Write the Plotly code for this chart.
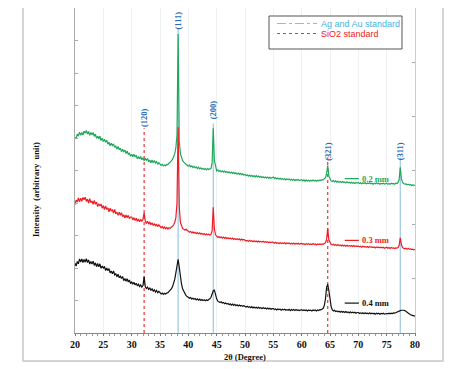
import plotly.graph_objects as go

# ---------------- data ----------------
# 2-theta sampling positions (degrees), 0.2 deg step from 20 to 80
TWO_THETA = [round(20 + 0.2 * i, 1) for i in range(301)]

# Intensity (arbitrary units, offset per sample)
INT_02MM = [
    # 20.0 - 24.8
    6.02, 5.98, 6.12, 6.06, 6.18, 6.08, 6.17, 6.09, 6.21, 6.15, 6.23, 6.12, 6.20, 6.08, 6.17, 6.10, 6.17, 6.05, 6.12, 5.99, 6.05, 5.98, 6.06, 5.92, 5.99,
    # 25.0 - 29.8
    5.89, 5.96, 5.87, 5.93, 5.81, 5.87, 5.76, 5.84, 5.77, 5.82, 5.71, 5.75, 5.66, 5.74, 5.64, 5.69, 5.58, 5.65, 5.58, 5.63, 5.52, 5.60, 5.50, 5.53, 5.44,
    # 30.0 - 34.8
    5.50, 5.42, 5.50, 5.42, 5.47, 5.36, 5.42, 5.36, 5.43, 5.33, 5.39, 5.30, 5.38, 5.31, 5.37, 5.27, 5.32, 5.24, 5.32, 5.24, 5.31, 5.23, 5.27, 5.19, 5.24,
    # 35.0 - 39.8
    5.21, 5.16, 5.19, 5.14, 5.17, 5.15, 5.19, 5.18, 5.23, 5.25, 5.30, 5.34, 5.42, 5.52, 5.70, 6.10, 9.20, 5.90, 5.52, 5.38, 5.30, 5.26, 5.21, 5.19, 5.16,
    # 40.0 - 44.8
    5.13, 5.17, 5.11, 5.14, 5.09, 5.13, 5.08, 5.11, 5.06, 5.10, 5.05, 5.08, 5.04, 5.07, 5.03, 5.06, 5.02, 5.06, 5.03, 5.05, 5.06, 5.25, 6.30, 5.30, 5.08,
    # 45.0 - 49.8
    4.99, 5.02, 4.97, 5.00, 4.96, 4.99, 4.95, 4.98, 4.94, 4.97, 4.93, 4.96, 4.92, 4.95, 4.91, 4.94, 4.90, 4.93, 4.89, 4.92, 4.88, 4.91, 4.87, 4.90, 4.86,
    # 50.0 - 54.8
    4.88, 4.84, 4.87, 4.83, 4.86, 4.82, 4.85, 4.81, 4.84, 4.80, 4.84, 4.80, 4.83, 4.79, 4.82, 4.78, 4.81, 4.78, 4.80, 4.77, 4.80, 4.76, 4.79, 4.76, 4.78,
    # 55.0 - 59.8
    4.80, 4.75, 4.78, 4.74, 4.77, 4.73, 4.76, 4.73, 4.75, 4.72, 4.75, 4.71, 4.74, 4.72, 4.74, 4.70, 4.73, 4.70, 4.73, 4.69, 4.72, 4.70, 4.72, 4.69, 4.71,
    # 60.0 - 64.8
    4.72, 4.68, 4.71, 4.67, 4.71, 4.68, 4.70, 4.67, 4.70, 4.68, 4.71, 4.68, 4.70, 4.67, 4.70, 4.68, 4.71, 4.69, 4.72, 4.71, 4.74, 4.78, 4.90, 5.15, 4.82,
    # 65.0 - 69.8
    4.72, 4.68, 4.66, 4.69, 4.65, 4.68, 4.64, 4.67, 4.64, 4.66, 4.63, 4.66, 4.63, 4.65, 4.62, 4.65, 4.62, 4.64, 4.61, 4.64, 4.61, 4.63, 4.60, 4.63, 4.61,
    # 70.0 - 74.8
    4.63, 4.60, 4.62, 4.59, 4.62, 4.60, 4.63, 4.59, 4.61, 4.60, 4.62, 4.59, 4.61, 4.58, 4.61, 4.59, 4.62, 4.59, 4.61, 4.58, 4.60, 4.59, 4.61, 4.58, 4.60,
    # 75.0 - 80.0
    4.61, 4.58, 4.60, 4.58, 4.61, 4.59, 4.60, 4.58, 4.61, 4.60, 4.63, 4.72, 5.10, 4.75, 4.63, 4.60, 4.58, 4.59, 4.56, 4.58, 4.55, 4.57, 4.54, 4.56, 4.54, 4.54,
]

INT_03MM = [
    3.95, 4.09, 4.03, 4.16, 4.04, 4.15, 4.05, 4.17, 4.10, 4.18, 4.05, 4.12, 4.00, 4.13, 4.01, 4.06, 3.96, 4.08, 3.96, 4.03, 3.89, 3.98, 3.91, 3.97, 3.84,
    3.92, 3.80, 3.91, 3.80, 3.85, 3.73, 3.84, 3.75, 3.80, 3.69, 3.80, 3.67, 3.72, 3.62, 3.72, 3.62, 3.70, 3.58, 3.64, 3.54, 3.63, 3.55, 3.62, 3.52, 3.57,
    3.57, 3.48, 3.55, 3.46, 3.53, 3.44, 3.51, 3.42, 3.49, 3.44, 3.50, 3.70, 3.45, 3.37, 3.44, 3.35, 3.42, 3.33, 3.39, 3.31, 3.37, 3.29, 3.35, 3.27, 3.33,
    3.30, 3.24, 3.28, 3.22, 3.26, 3.21, 3.25, 3.20, 3.24, 3.22, 3.26, 3.28, 3.33, 3.40, 3.55, 4.00, 6.33, 3.90, 3.40, 3.27, 3.22, 3.19, 3.17, 3.19, 3.15,
    3.14, 3.10, 3.13, 3.08, 3.11, 3.07, 3.10, 3.06, 3.09, 3.05, 3.08, 3.04, 3.07, 3.03, 3.06, 3.02, 3.05, 3.02, 3.04, 3.01, 3.04, 3.15, 3.87, 3.20, 3.02,
    2.98, 2.94, 2.97, 2.93, 2.96, 2.92, 2.95, 2.91, 2.94, 2.90, 2.93, 2.90, 2.92, 2.89, 2.92, 2.88, 2.91, 2.88, 2.90, 2.87, 2.90, 2.86, 2.89, 2.86, 2.88,
    2.86, 2.83, 2.85, 2.82, 2.85, 2.82, 2.84, 2.81, 2.84, 2.81, 2.83, 2.80, 2.83, 2.80, 2.82, 2.80, 2.82, 2.79, 2.81, 2.79, 2.81, 2.78, 2.80, 2.78, 2.80,
    2.79, 2.76, 2.79, 2.76, 2.78, 2.75, 2.78, 2.75, 2.77, 2.75, 2.78, 2.74, 2.77, 2.75, 2.77, 2.74, 2.76, 2.74, 2.77, 2.73, 2.76, 2.74, 2.76, 2.73, 2.75,
    2.76, 2.73, 2.75, 2.72, 2.75, 2.73, 2.75, 2.72, 2.74, 2.72, 2.75, 2.72, 2.74, 2.71, 2.74, 2.72, 2.74, 2.72, 2.74, 2.73, 2.75, 2.78, 2.88, 3.22, 2.86,
    2.76, 2.72, 2.71, 2.73, 2.70, 2.72, 2.69, 2.72, 2.69, 2.71, 2.68, 2.71, 2.68, 2.70, 2.67, 2.70, 2.67, 2.69, 2.67, 2.69, 2.66, 2.69, 2.66, 2.68, 2.66,
    2.68, 2.65, 2.67, 2.64, 2.67, 2.65, 2.66, 2.64, 2.66, 2.63, 2.66, 2.64, 2.65, 2.63, 2.65, 2.62, 2.65, 2.63, 2.64, 2.62, 2.64, 2.62, 2.64, 2.61, 2.63,
    2.64, 2.61, 2.63, 2.60, 2.63, 2.61, 2.62, 2.60, 2.62, 2.61, 2.63, 2.70, 2.93, 2.72, 2.63, 2.61, 2.59, 2.61, 2.58, 2.60, 2.58, 2.59, 2.57, 2.58, 2.56, 2.57,
]

INT_04MM = [
    2.15, 2.06, 2.20, 2.13, 2.28, 2.18, 2.28, 2.17, 2.26, 2.18, 2.29, 2.17, 2.25, 2.12, 2.20, 2.12, 2.21, 2.08, 2.16, 2.04, 2.14, 2.04, 2.13, 1.99, 2.06,
    1.99, 2.05, 1.92, 2.00, 1.92, 1.98, 1.85, 1.91, 1.82, 1.91, 1.79, 1.82, 1.73, 1.81, 1.70, 1.75, 1.68, 1.74, 1.61, 1.68, 1.59, 1.67, 1.57, 1.63, 1.52,
    1.58, 1.50, 1.56, 1.48, 1.53, 1.45, 1.50, 1.43, 1.48, 1.41, 1.46, 1.74, 1.42, 1.37, 1.41, 1.34, 1.39, 1.31, 1.36, 1.29, 1.33, 1.26, 1.31, 1.24, 1.28,
    1.24, 1.20, 1.23, 1.19, 1.22, 1.20, 1.23, 1.24, 1.28, 1.31, 1.36, 1.42, 1.52, 1.65, 1.85, 2.05, 2.27, 2.02, 1.70, 1.50, 1.35, 1.27, 1.20, 1.15, 1.12,
    1.10, 1.07, 1.09, 1.05, 1.07, 1.04, 1.06, 1.02, 1.05, 1.01, 1.04, 1.00, 1.03, 1.00, 1.02, 0.99, 1.02, 1.00, 1.03, 1.05, 1.10, 1.20, 1.30, 1.32, 1.15,
    1.05, 0.98, 0.96, 0.94, 0.96, 0.92, 0.94, 0.90, 0.92, 0.89, 0.91, 0.87, 0.90, 0.86, 0.89, 0.85, 0.88, 0.84, 0.87, 0.83, 0.86, 0.83, 0.85, 0.82, 0.84,
    0.83, 0.80, 0.82, 0.79, 0.81, 0.78, 0.81, 0.77, 0.80, 0.77, 0.79, 0.76, 0.79, 0.76, 0.78, 0.75, 0.78, 0.75, 0.77, 0.74, 0.77, 0.74, 0.76, 0.73, 0.75,
    0.75, 0.72, 0.74, 0.71, 0.74, 0.72, 0.73, 0.70, 0.73, 0.71, 0.73, 0.70, 0.72, 0.70, 0.73, 0.69, 0.72, 0.70, 0.72, 0.69, 0.72, 0.70, 0.71, 0.69, 0.71,
    0.72, 0.69, 0.71, 0.69, 0.71, 0.68, 0.71, 0.69, 0.70, 0.68, 0.71, 0.69, 0.71, 0.68, 0.71, 0.69, 0.72, 0.71, 0.73, 0.76, 0.85, 1.05, 1.40, 1.50, 1.30,
    1.02, 0.82, 0.72, 0.68, 0.70, 0.66, 0.68, 0.65, 0.67, 0.64, 0.67, 0.64, 0.66, 0.63, 0.66, 0.63, 0.65, 0.62, 0.65, 0.62, 0.64, 0.62, 0.64, 0.61, 0.63,
    0.63, 0.60, 0.62, 0.60, 0.62, 0.59, 0.62, 0.60, 0.61, 0.59, 0.62, 0.59, 0.61, 0.59, 0.61, 0.58, 0.61, 0.59, 0.61, 0.58, 0.60, 0.59, 0.61, 0.58, 0.60,
    0.60, 0.59, 0.61, 0.59, 0.61, 0.60, 0.62, 0.61, 0.63, 0.64, 0.66, 0.67, 0.69, 0.70, 0.71, 0.70, 0.69, 0.66, 0.63, 0.60, 0.58, 0.56, 0.55, 0.54, 0.53, 0.52,
]

SAMPLE_LABELS = ["0.2 mm", "0.3 mm", "0.4 mm"]

# Standard reflection positions (2-theta) and their (hkl) labels
AGAU_PEAKS = [38.2, 44.4, 77.4]
AGAU_HKL = ["(111)", "(200)", "(311)"]
SIO2_PEAKS = [32.2, 64.6]
SIO2_HKL = ["(120)", "(321)"]

LEGEND_LABELS = ["Ag and Au standard", "SiO2 standard"]
X_TICKS = [20, 25, 30, 35, 40, 45, 50, 55, 60, 65, 70, 75, 80]

# ---------------- styling ----------------
GREEN = "#1fa85a"
RED = "#ee1c24"
BLACK = "#111111"
BLUE_LINE = "#9cc8e4"
RED_LINE = "#e8343c"
HKL_BLUE = "#2c6fb6"
SERIF = "Liberation Serif, Times New Roman, serif"
SANS = "Liberation Sans, Arial, sans-serif"

AGAU_TOPS = [9.4, 6.45, 5.4]
SIO2_TOPS = [6.3, 5.4]
AGAU_LABEL_Y = [9.62, 6.86, 5.6]
SIO2_LABEL_Y = [6.62, 5.6]

# The page body has an 8px default margin; the figure is sized/placed so that
# the plot area lands at x 75..415, y 8..333 in the browser window.
OFF = 8
FIG_W, FIG_H = 474 - OFF, 369 - OFF
PL, PR, PT, PB = 75, 415, 8, 333  # plot area in window pixels

fig = go.Figure()

# vertical standard lines
for p, top in zip(SIO2_PEAKS, SIO2_TOPS):
    fig.add_trace(go.Scatter(x=[p, p], y=[0, top], mode="lines",
                             line=dict(color=RED_LINE, width=1.2, dash="dot"),
                             showlegend=False, hoverinfo="skip"))
for p, top in zip(AGAU_PEAKS, AGAU_TOPS):
    fig.add_trace(go.Scatter(x=[p, p], y=[0, top], mode="lines",
                             line=dict(color=BLUE_LINE, width=1.2),
                             showlegend=False, hoverinfo="skip"))

# XRD patterns
for ys, col in zip([INT_02MM, INT_03MM, INT_04MM], [GREEN, RED, BLACK]):
    fig.add_trace(go.Scatter(x=TWO_THETA, y=ys, mode="lines",
                             line=dict(color=col, width=1.2),
                             showlegend=False, hoverinfo="skip"))

# invisible trace for the right-hand tick axis
fig.add_trace(go.Scatter(x=[20, 80], y=[0, 10], yaxis="y2", mode="lines",
                         line=dict(color="rgba(0,0,0,0)"), showlegend=False,
                         hoverinfo="skip"))


def px_x(px):
    return (px - PL) / float(PR - PL)


def px_y(py):
    return (PB - py) / float(PB - PT)


annotations = []
# hkl labels
for p, lab, yy in list(zip(AGAU_PEAKS, AGAU_HKL, AGAU_LABEL_Y)) + list(zip(SIO2_PEAKS, SIO2_HKL, SIO2_LABEL_Y)):
    annotations.append(dict(x=p, y=yy, xref="x", yref="y", text="<b>" + lab + "</b>",
                            textangle=-90, showarrow=False, xanchor="center", yanchor="middle",
                            font=dict(family=SERIF, size=8.5, color=HKL_BLUE)))

# sample labels with short line keys
shapes = []
SAMPLE_Y = [4.75, 2.85, 0.92]
for lab, col, yy in zip(SAMPLE_LABELS, [GREEN, RED, BLACK], SAMPLE_Y):
    shapes.append(dict(type="line", xref="x", yref="y", x0=67.6, x1=70.1, y0=yy, y1=yy,
                       line=dict(color=col, width=1.2)))
    annotations.append(dict(x=70.35, y=yy, xref="x", yref="y", text="<b>" + lab + "</b>",
                            showarrow=False, xanchor="left", yanchor="middle",
                            font=dict(family=SERIF, size=8.5, color=col)))

# custom legend box
shapes.append(dict(type="rect", xref="paper", yref="paper",
                   x0=px_x(269), x1=px_x(402), y0=px_y(49), y1=px_y(16),
                   line=dict(color="#555555", width=1), fillcolor="white"))
shapes.append(dict(type="line", xref="paper", yref="paper",
                   x0=px_x(277), x1=px_x(317), y0=px_y(23.5), y1=px_y(23.5),
                   line=dict(color="#7cc4e6", width=1, dash="dashdot")))
shapes.append(dict(type="line", xref="paper", yref="paper",
                   x0=px_x(277), x1=px_x(317), y0=px_y(33.5), y1=px_y(33.5),
                   line=dict(color=RED_LINE, width=1, dash="dot")))
annotations.append(dict(x=px_x(319), y=px_y(23.5), xref="paper", yref="paper",
                        text=LEGEND_LABELS[0], showarrow=False, xanchor="left", yanchor="middle",
                        font=dict(family=SANS, size=9, color="#45b4e6")))
annotations.append(dict(x=px_x(319), y=px_y(33.5), xref="paper", yref="paper",
                        text=LEGEND_LABELS[1], showarrow=False, xanchor="left", yanchor="middle",
                        font=dict(family=SANS, size=9, color=RED)))

# outer frame
shapes.append(dict(type="rect", xref="paper", yref="paper",
                   x0=px_x(23), x1=px_x(443), y0=px_y(361), y1=px_y(-10),
                   line=dict(color="#c8c8c8", width=1.5), fillcolor="rgba(0,0,0,0)", layer="below"))

# axis titles
annotations.append(dict(x=px_x(245), y=px_y(357), xref="paper", yref="paper",
                        text="<b>2θ (Degree)</b>", showarrow=False, xanchor="center", yanchor="middle",
                        font=dict(family=SERIF, size=8.5, color="#111111")))
annotations.append(dict(x=px_x(36), y=px_y(190), xref="paper", yref="paper",
                        text="<b>Intensity  (arbitrary  unit)</b>", textangle=-90, showarrow=False,
                        xanchor="center", yanchor="middle",
                        font=dict(family=SERIF, size=8.5, color="#111111")))

fig.update_layout(
    width=FIG_W, height=FIG_H,
    margin=dict(l=PL - OFF, r=FIG_W - (PR - OFF), t=PT - OFF, b=FIG_H - (PB - OFF), pad=0),
    paper_bgcolor="white", plot_bgcolor="white",
    xaxis=dict(range=[20, 80], tickvals=X_TICKS, ticks="outside", ticklen=2,
               tickcolor="#777777", showline=True, linecolor="#888888", linewidth=1,
               mirror=True, showgrid=True, gridcolor="#eef1f4", zeroline=False,
               minor=dict(dtick=1, ticks="outside", ticklen=2, tickcolor="#999999", showgrid=False),
               tickfont=dict(family=SERIF, size=10, color="#111111", weight="bold")),
    yaxis=dict(range=[0, 10], dtick=1, ticks="inside", ticklen=3, tickcolor="#aaaaaa",
               showticklabels=False, showline=True, linecolor="#aaaaaa", linewidth=1,
               mirror=False, showgrid=False, zeroline=False),
    yaxis2=dict(range=[0, 10], overlaying="y", side="right",
                tickvals=[10 / 6 * i for i in range(1, 6)], ticks="inside", ticklen=3,
                tickcolor="#aaaaaa", showticklabels=False, showline=True,
                linecolor="#cccccc", showgrid=False, zeroline=False),
    shapes=shapes,
    annotations=annotations,
)

fig.write_html("out.html")
